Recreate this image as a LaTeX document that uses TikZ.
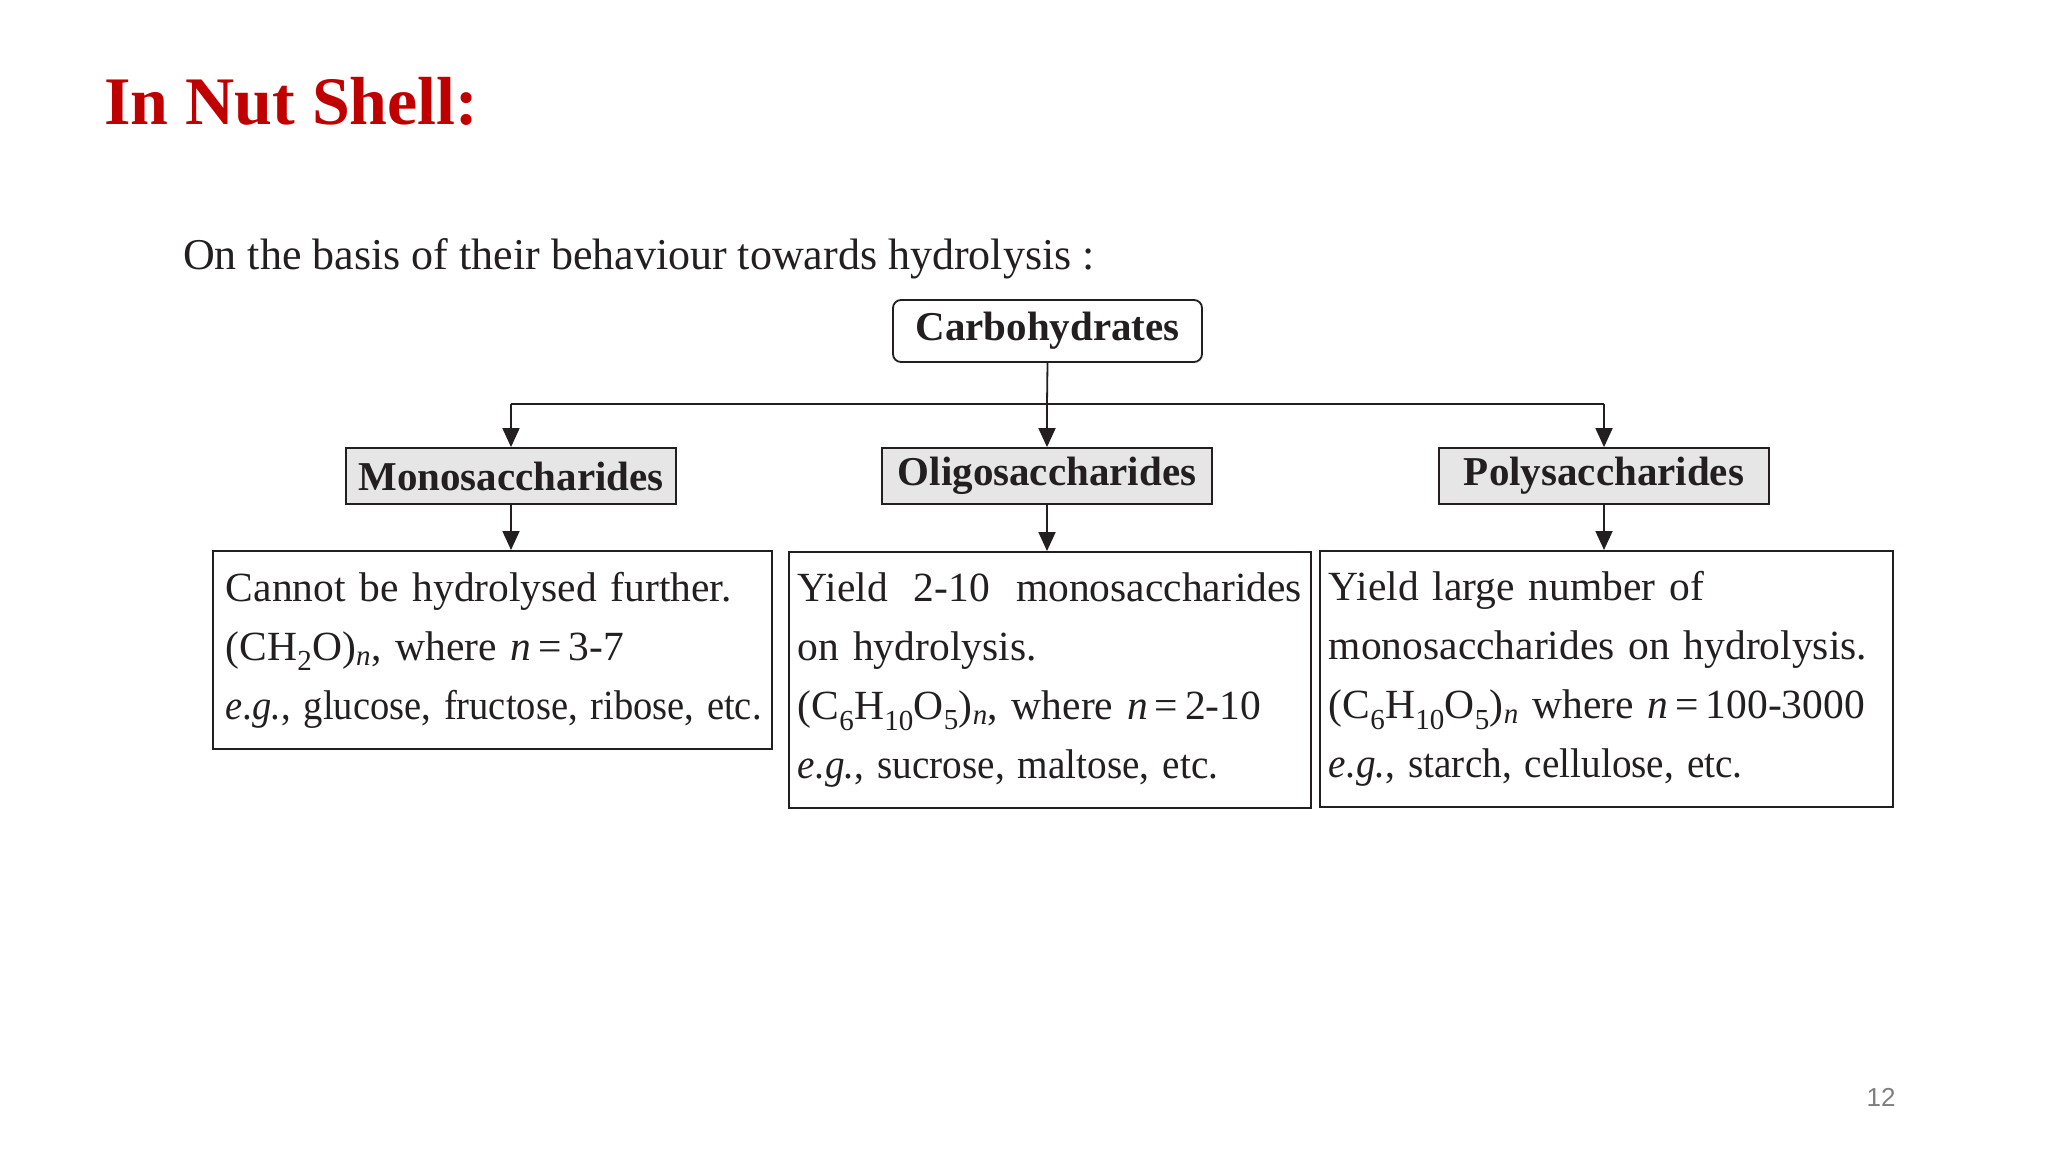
\documentclass[tikz,border=0pt]{standalone}
\usepackage{fontspec}
\usepackage{graphicx}
\setmainfont{Liberation Serif}
\setsansfont{Liberation Sans}
\usetikzlibrary{arrows.meta}
\definecolor{titlered}{HTML}{C00000}
\definecolor{hdrgray}{HTML}{E6E6E6}
\definecolor{ink}{HTML}{231F20}
\definecolor{pagegray}{HTML}{7F7F7F}
\begin{document}
\begin{tikzpicture}[x=1pt,y=-1pt,
  conn/.style={draw=ink, line width=1.8pt},
  arr/.style={conn, -{Triangle[length=19pt,width=17pt]}},
  topbox/.style={draw=ink, line width=1.8pt, rounded corners=8pt, minimum width=309pt, minimum height=62pt, inner sep=0pt, text=ink, font=\fontsize{41}{49}\selectfont\bfseries},
  hdrbox/.style={draw=ink, line width=1.8pt, fill=hdrgray, minimum width=330pt, minimum height=56pt, inner sep=0pt, text=ink, font=\fontsize{41}{49}\selectfont\bfseries},
  detail/.style={draw=ink, line width=1.8pt, anchor=north west, align=left, inner ysep=0pt, text=ink, font=\fontsize{41.5}{59}\selectfont},
]
\useasboundingbox (0,0) rectangle (2048,1152);
\fill[white] (0,0) rectangle (2048,1152);

\node[anchor=base west, inner sep=0pt, text=titlered, font=\fontsize{68}{80}\selectfont\bfseries] (title) at (104,124) {In Nut Shell:};
\node[anchor=base west, inner sep=0pt, text=ink, font=\fontsize{44}{52}\selectfont] (sub) at (183,269) {On the basis of their behaviour towards hydrolysis :};

\node[topbox] (carb) at (1047.5,331) {Carbohydrates};
\node[hdrbox] (mono) at (511,476) {Monosaccharides};
\node[hdrbox] (oligo) at (1047,476) {Oligosaccharides};
\node[hdrbox] (poly) at (1604,476) {Polysaccharides};

\node[detail, inner xsep=13pt, text width=533pt, minimum height=198pt] (d1) at (212,550)
 {\mbox{Cannot be hydrolysed further.}\\
  \mbox{(CH\textsubscript{2}O)\textsubscript{\textit{n}}, where \textit{n}\,=\,3-7}\\
  \scalebox{0.928}[1]{\textit{e.g.}, glucose, fructose, ribose, etc.}};
\node[detail, inner xsep=9pt, text width=504pt, minimum height=256pt] (d2) at (788,551)
 {Yield\hfill 2-10\hfill monosaccharides\\
  \mbox{on hydrolysis.}\\
  \mbox{(C\textsubscript{6}H\textsubscript{10}O\textsubscript{5})\textsubscript{\textit{n}}, where \textit{n}\,=\,2-10}\\
  \scalebox{0.945}[1]{\textit{e.g.}, sucrose, maltose, etc.}};
\node[detail, inner xsep=9pt, text width=555pt, minimum height=256pt] (d3) at (1319,550)
 {\mbox{Yield large number of}\\
  \mbox{monosaccharides on hydrolysis.}\\
  \mbox{(C\textsubscript{6}H\textsubscript{10}O\textsubscript{5})\textsubscript{\textit{n}} where \textit{n}\,=\,100-3000}\\
  \scalebox{0.945}[1]{\textit{e.g.}, starch, cellulose, etc.}};

\coordinate (j) at (1047,404);
\draw[conn] (carb.south) -- (j);
\draw[conn] (mono.north |- j) -- (poly.north |- j);
\draw[arr] (j) -- (oligo.north);
\draw[arr] (mono.north |- j) -- (mono.north);
\draw[arr] (poly.north |- j) -- (poly.north);
\draw[arr] (mono.south) -- (mono.south |- d1.north);
\draw[arr] (oligo.south) -- (oligo.south |- d2.north);
\draw[arr] (poly.south) -- (poly.south |- d3.north);

\node[anchor=base, inner sep=0pt, text=pagegray, font=\sffamily\fontsize{26}{30}\selectfont] (pnum) at (1881,1106) {12};
\end{tikzpicture}
\end{document}
